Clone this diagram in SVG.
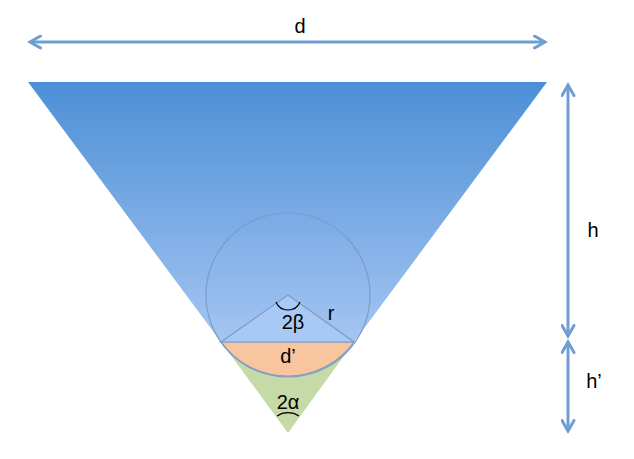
<svg xmlns="http://www.w3.org/2000/svg" width="634" height="459" viewBox="0 0 634 459">
<style>
.t{font-family:"Liberation Sans",Arial,sans-serif;font-size:20px;fill:#000;text-anchor:middle}
.dim{stroke:#6f9ed3;stroke-width:3;fill:none}
.edge{stroke:#7d9cc4;stroke-width:1.2;fill:none}
</style>
<defs>
<linearGradient id="g" x1="0" y1="82" x2="0" y2="345" gradientUnits="userSpaceOnUse">
<stop offset="0" stop-color="#4d8fd6"/>
<stop offset="1" stop-color="#a5c6f3"/>
</linearGradient>
<marker id="ah" viewBox="0 0 10 10" refX="8" refY="5" markerWidth="5" markerHeight="5" orient="auto-start-reverse">
<path d="M1,1 L8,5 L1,9" fill="none" stroke="#6f9ed3" stroke-width="2" stroke-linecap="round"/>
</marker>
</defs>
<g id="cone">
<path d="M28,82 L547,82 L354,342 L221,342 Z" fill="url(#g)"/>
</g>
<g id="lower-triangle">
<path d="M221,342 L354,342 L288,433 Z" fill="#c6daa8"/>
</g>
<g id="segment">
<path d="M221,342 A82,82 0 0 0 354,342 Z" fill="#f8c59e" stroke="#7d9cc4" stroke-width="1.2"/>
</g>
<g id="sector">
<path d="M221,342 L288,295 L354,342 Z" fill="#a8c8f6" stroke="#7d9cc4" stroke-width="1.2"/>
</g>
<g id="circle">
<circle cx="288" cy="295" r="82" class="edge"/>
</g>
<g id="angles">
<path d="M276,302 A13,13 0 0 0 300,302" stroke="#000" stroke-width="1.2" fill="none"/>
<path d="M277,416 A20,20 0 0 1 299,416" stroke="#000" stroke-width="1.2" fill="none"/>
</g>
<g id="connectors">
<line x1="30" y1="42" x2="545" y2="42" class="dim" marker-start="url(#ah)" marker-end="url(#ah)"/>
<line x1="568" y1="85" x2="568" y2="336" class="dim" marker-start="url(#ah)" marker-end="url(#ah)"/>
<line x1="568" y1="342" x2="568" y2="431" class="dim" marker-start="url(#ah)" marker-end="url(#ah)"/>
</g>
<g id="labels">
<text class="t" x="300" y="33" font-size="21">d</text>
<text class="t" x="593" y="237">h</text>
<text class="t" x="594" y="388">h’</text>
<text class="t" x="331" y="320" font-size="17">r</text>
<text class="t" x="293" y="329" font-size="18">2β</text>
<text class="t" x="288" y="363" font-size="18">d’</text>
<text class="t" x="288" y="409" font-size="18">2α</text>
</g>
</svg>
